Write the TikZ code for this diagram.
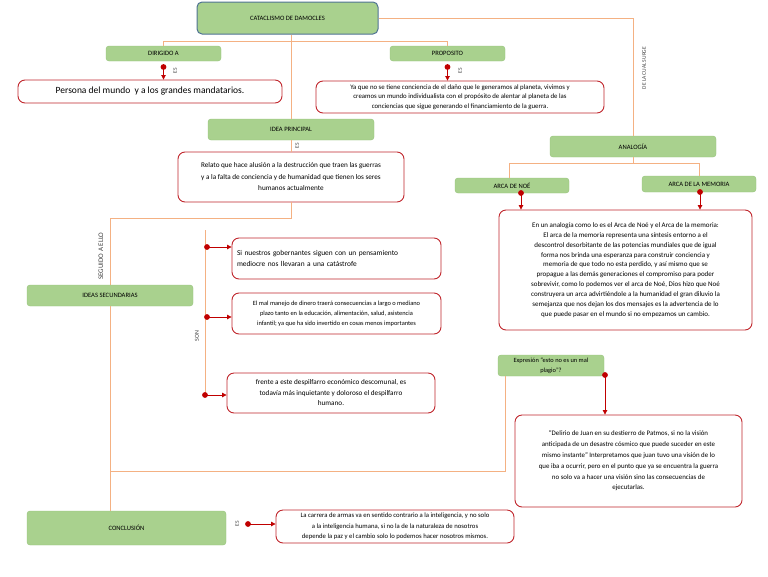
\documentclass[tikz,border=0pt]{standalone}
\usepackage{fontspec}
\setmainfont{Carlito}
\usetikzlibrary{arrows.meta,calc}
\definecolor{gfill}{HTML}{A9D18E}
\definecolor{gline}{HTML}{95C27A}
\definecolor{mline}{HTML}{4F7394}
\definecolor{rline}{HTML}{C0262C}
\definecolor{oline}{HTML}{F4B183}
\definecolor{dred}{HTML}{C00000}
\begin{document}
\begin{tikzpicture}[x=1pt,y=-1pt,
  gbox/.style={draw=gline, fill=gfill, rounded corners=3pt, inner sep=0pt, align=center, text=black, font=\fontsize{6.6}{8}\selectfont},
  rbox/.style={draw=rline, line width=0.9pt, fill=white, rounded corners=7pt, inner sep=0pt, align=center, text=black},
  conn/.style={draw=oline, line width=0.8pt},
  rarrow/.style={draw=dred, line width=0.8pt, -{Triangle[length=4.5pt,width=4.5pt]}},
  rdot/.style={fill=dred},
  lbl/.style={font=\fontsize{5.5}{6}\selectfont, rotate=90, text=black!75, inner sep=0pt}]
\useasboundingbox (0,0) rectangle (768,576);

% ---- coordinates for connector routes
\coordinate (y41) at (0,41);
\coordinate (y218) at (0,218);
\coordinate (y163) at (0,163);
\coordinate (y471) at (0,471);

% ---- main
\node[gbox, draw=mline, line width=1pt, rounded corners=5pt, minimum width=181pt, minimum height=32pt] (main) at (287.5,18) {CATACLISMO DE DAMOCLES};

% ---- top branch boxes
\node[gbox, minimum width=115pt, minimum height=15pt] (dirigido) at (163.5,53.5) {DIRIGIDO A};
\node[gbox, minimum width=115pt, minimum height=15pt] (proposito) at (447.5,53.5) {PROPOSITO};
\node[rbox, minimum width=264pt, minimum height=23pt, font=\fontsize{9.5}{11}\selectfont] (persona) at (150,91.5) {Persona del mundo \ y a los grandes mandatarios.};
\node[rbox, minimum width=288pt, minimum height=32pt, font=\fontsize{6.8}{9.5}\selectfont] (propTxt) at (460,97) {Ya que no se tiene conciencia de el daño que le generamos al planeta, vivimos y\\creamos un mundo individualista con el propósito de alentar al planeta de las\\conciencias que sigue generando el financiamiento de la guerra.};

% ---- idea principal
\node[gbox, minimum width=166pt, minimum height=21pt] (idea) at (291,129.5) {IDEA PRINCIPAL};
\node[rbox, minimum width=226pt, minimum height=50pt, font=\fontsize{7.2}{11.5}\selectfont] (relato) at (291,177) {Relato que hace alusión a la destrucción que traen las guerras\\y a la falta de conciencia y de humanidad que tienen los seres\\humanos actualmente};

% ---- ideas secundarias
\node[rbox, minimum width=209pt, minimum height=41pt, text width=199pt, align=left, font=\fontsize{7.4}{11}\selectfont] (s1) at (336.5,258.5) {Si nuestros gobernantes siguen con un pensamiento\\mediocre nos llevaran a una catástrofe};
\node[rbox, minimum width=209pt, minimum height=41pt, font=\fontsize{6.4}{10}\selectfont] (s2) at (336.5,313.5) {El mal manejo de dinero traerá consecuencias a largo o mediano\\plazo tanto en la educación, alimentación, salud, asistencia\\infantil; ya que ha sido invertido en cosas menos importantes};
\node[rbox, minimum width=208pt, minimum height=40pt, font=\fontsize{7.2}{10.5}\selectfont] (s3) at (331,393) {frente a este despilfarro económico descomunal, es\\todavía más inquietante y doloroso el despilfarro\\humano.};

% ---- expresion
\node[gbox, minimum width=106pt, minimum height=21pt, font=\fontsize{6.4}{10.5}\selectfont] (expresion) at (551,365.5) {Expresión “esto no es un mal\\plagio”?};
\node[rbox, minimum width=227pt, minimum height=92pt, font=\fontsize{6.9}{10.8}\selectfont] (delirio) at (628.5,461) {“Delirio de Juan en su destierro de Patmos, si no la visión\\anticipada de un desastre cósmico que puede suceder en este\\mismo instante” Interpretamos que juan tuvo una visión de lo\\que iba a ocurrir, pero en el punto que ya se encuentra la guerra\\no solo va a hacer una visión sino las consecuencias de\\ejecutarlas.};

% ---- conclusion
\node[gbox, minimum width=199pt, minimum height=34pt] (conclusion) at (126.5,528) {CONCLUSIÓN};
\node[rbox, minimum width=238pt, minimum height=33pt, font=\fontsize{6.7}{10.5}\selectfont] (concTxt) at (395,526.5) {La carrera de armas va en sentido contrario a la inteligencia, y no solo\\a la inteligencia humana, si no la de la naturaleza de nosotros\\depende la paz y el cambio solo lo podemos hacer nosotros mismos.};

% ---- analogia
\node[gbox, minimum width=166pt, minimum height=21pt] (analogia) at (633,146.5) {ANALOGÍA};
\node[gbox, minimum width=114pt, minimum height=15pt] (noe) at (512,185.5) {ARCA DE NOÉ};
\node[gbox, minimum width=114pt, minimum height=16pt] (memoria) at (699,184) {ARCA DE LA MEMORIA};
\node[rbox, minimum width=253pt, minimum height=120pt, font=\fontsize{7}{9.9}\selectfont] (arca) at (625.5,270) {En un analogía como lo es el Arca de Noé y el Arca de la memoria:\\El arca de la memoria representa una síntesis entorno a el\\descontrol desorbitante de las potencias mundiales que de igual\\forma nos brinda una esperanza para construir conciencia y\\memoria de que todo no esta perdido, y así mismo que se\\propague a las demás generaciones el compromiso para poder\\sobrevivir, como lo podemos ver el arca de Noé, Dios hizo que Noé\\construyera un arca advirtiéndole a la humanidad el gran diluvio la\\semejanza que nos dejan los dos mensajes es la advertencia de lo\\que puede pasar en el mundo si no empezamos un cambio.};

% ---- orange connectors
\draw[conn] (main.south -| idea.north) -- (idea.north);
\draw[conn] (dirigido.north) -- (dirigido.north |- y41) -- (proposito.north |- y41) -- (proposito.north);
\draw[conn] (main.east) -| (analogia.north);
\draw[conn] (idea.south) -- (relato.north);
\coordinate (secTop) at (110,285);
\coordinate (concTop) at (110,511);
\draw[conn] (relato.south) -- (relato.south |- y218) -- (secTop |- y218) -- (secTop);
\coordinate (exDown) at (505,376);
\draw[conn] (secTop |- y471) -- (exDown |- y471) -- (exDown);
\draw[conn] (analogia.south) -- (analogia.south |- y163);
\coordinate (noeTop) at (509,178);
\draw[conn] (noeTop) -- (noeTop |- y163) -- (memoria.north |- y163) -- (memoria.north);
\coordinate (sonTop) at (205,230);
\coordinate (sonBot) at (205,395);
\draw[conn] (sonTop) -- (sonBot);
\node[gbox, minimum width=166pt, minimum height=21pt] (ideasSec) at (110,295.5) {IDEAS SECUNDARIAS};
\draw[conn] (ideasSec.south) -- (concTop);

% ---- red dots and arrows
\coordinate (d1) at (163.5,67);
\fill[rdot] (d1) circle (2.9);
\draw[rarrow] (d1) -- (d1 |- persona.north);
\coordinate (d2) at (447.5,67);
\fill[rdot] (d2) circle (2.9);
\draw[rarrow] (d2) -- (d2 |- propTxt.north);
\coordinate (d3) at (207,247);
\fill[rdot] (d3) circle (2.9);
\draw[rarrow] (d3) -- (d3 -| s1.west);
\coordinate (d4) at (207,317);
\fill[rdot] (d4) circle (2.9);
\draw[rarrow] (d4) -- (d4 -| s2.west);
\coordinate (d5) at (205,395);
\fill[rdot] (d5) circle (2.9);
\draw[rarrow] (d5) -- (d5 -| s3.west);
\coordinate (d6) at (605,375);
\fill[rdot] (d6) circle (2.9);
\draw[rarrow] (d6) -- (d6 |- delirio.north);
\coordinate (d7) at (248,524);
\fill[rdot] (d7) circle (2.9);
\draw[rarrow] (d7) -- (d7 -| concTxt.west);
\coordinate (d8) at (521,193);
\fill[rdot] (d8) circle (2.9);
\draw[rarrow] (d8) -- (d8 |- arca.north);
\coordinate (d9) at (700,192);
\fill[rdot] (d9) circle (2.9);
\draw[rarrow] (d9) -- (d9 |- arca.north);

% ---- connector labels
\node[lbl] (l1) at (175,71) {ES};
\node[lbl] (l2) at (460,71) {ES};
\node[lbl] (l3) at (297,146) {ES};
\node[lbl] (l4) at (644,68) {DE LA CUAL SURGE};
\node[lbl, font=\fontsize{7}{8}\selectfont] (l5) at (101,256) {SEGUIDO A ELLO};
\node[lbl, font=\fontsize{6}{7}\selectfont] (l6) at (197,336) {SON};
\node[lbl] (l7) at (237,524) {ES};
\end{tikzpicture}
\end{document}
